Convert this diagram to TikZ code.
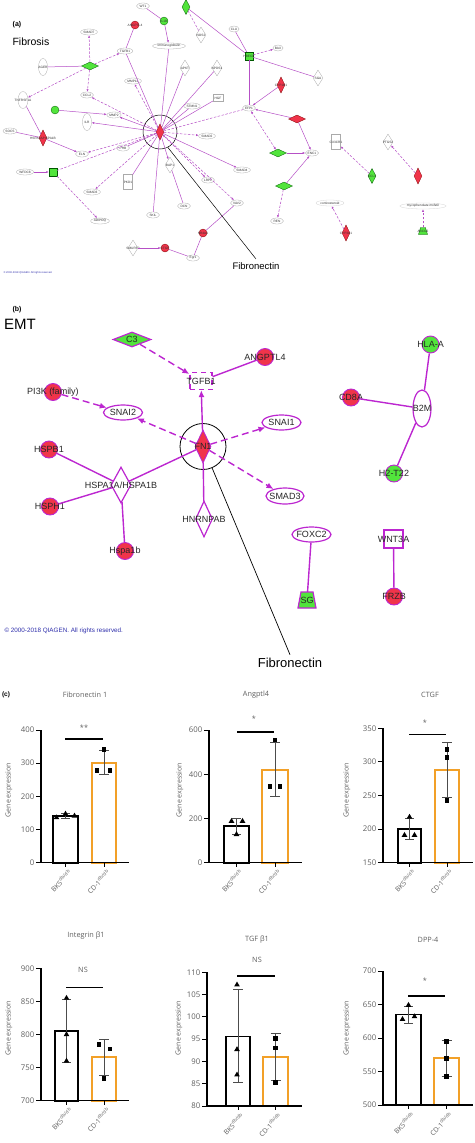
\documentclass[tikz,border=0pt]{standalone}
\usepackage{fontspec}
\setmainfont{Liberation Sans}
\newfontfamily\chartfont{Open Sans}
\usetikzlibrary{shapes.geometric,arrows.meta}
\definecolor{ipa}{RGB}{188,38,208}
\definecolor{ipal}{RGB}{182,80,198}
\definecolor{nred}{RGB}{240,52,74}
\definecolor{ngreen}{RGB}{82,228,60}
\definecolor{qblue}{RGB}{45,45,170}
\definecolor{obar}{RGB}{242,160,40}
\definecolor{cgray}{RGB}{95,95,95}
\definecolor{agray}{RGB}{170,170,170}
\newcommand\xlabs[4]{%
  \draw[cax,line width=1pt] (#2,#4) -- (#2,#4+4) (#3,#4) -- (#3,#4+4);
  \node[xlab] (#1k) at (#2+2.5,#4+6) {BKS\textsuperscript{db/db}};
  \node[xlab] (#1m) at (#3+2.5,#4+6) {CD-1\textsuperscript{db/db}};
}
\begin{document}
\begin{tikzpicture}[x=1pt,y=-1pt,
 alab/.style={font=\fontsize{3.2}{3.2}\selectfont, inner sep=0pt, text=black!80},
 aL/.style={label={[alab]center:#1}},
 abase/.style={draw=agray, line width=0.3pt, fill=white, inner sep=0.4pt},
 aell/.style={abase, ellipse, minimum width=13pt, minimum height=6pt, font=\fontsize{3.2}{3.2}\selectfont, text=black!80},
 aellv/.style={abase, ellipse, minimum width=9pt, minimum height=17pt},
 awdv/.style={abase, diamond, minimum width=10pt, minimum height=16pt, inner sep=0pt},
 abox/.style={abase, rectangle, minimum width=10pt, minimum height=7pt, font=\fontsize{3.2}{3.2}\selectfont, text=black!80},
 aboxv/.style={abase, rectangle, minimum width=9pt, minimum height=15pt, inner sep=0pt},
 agc/.style={circle, fill=ngreen, draw=green!35!black, line width=0.3pt, minimum size=8pt, inner sep=0pt},
 arc/.style={circle, fill=nred, draw=red!50!black, line width=0.3pt, minimum size=8pt, inner sep=0pt},
 agdv/.style={diamond, fill=ngreen, draw=green!35!black, line width=0.3pt, minimum width=8pt, minimum height=15pt, inner sep=0pt},
 agdh/.style={diamond, fill=ngreen, draw=green!35!black, line width=0.3pt, minimum width=17pt, minimum height=8pt, inner sep=0pt},
 ardv/.style={diamond, fill=nred, draw=red!50!black, line width=0.3pt, minimum width=8pt, minimum height=16pt, inner sep=0pt},
 ardh/.style={diamond, fill=nred, draw=red!50!black, line width=0.3pt, minimum width=17pt, minimum height=8pt, inner sep=0pt},
 agsq/.style={rectangle, fill=ngreen, draw=green!35!black, line width=0.3pt, minimum size=8pt, inner sep=0pt},
 ae/.style={draw=ipal, line width=0.5pt},
 aa/.style={ae, -{Latex[length=2.6pt,width=2.2pt]}},
 ad/.style={ae, dash pattern=on 2.5pt off 1.5pt},
 ada/.style={ad, -{Latex[length=2.6pt,width=2.2pt]}},
 adaa/.style={ad, {Latex[length=2.6pt,width=2.2pt]}-{Latex[length=2.6pt,width=2.2pt]}},
 blab/.style={font=\fontsize{9}{9}\selectfont, inner sep=0pt, text=black!85},
 bL/.style={label={[blab]center:#1}},
 bred/.style={circle, fill=nred, draw=ipa, line width=0.9pt, minimum size=17pt, inner sep=0pt},
 bgreen/.style={circle, fill=ngreen, draw=ipa, line width=0.9pt, minimum size=17pt, inner sep=0pt},
 bell/.style={ellipse, draw=ipa, fill=white, line width=1.2pt, minimum width=39pt, minimum height=15pt, inner sep=0pt},
 bdia/.style={diamond, draw=ipa, fill=white, line width=1.2pt, minimum width=18pt, minimum height=36pt, inner sep=0pt},
 be/.style={draw=ipa, line width=1.4pt},
 ba/.style={be, -{Latex[length=7pt,width=6pt]}},
 bd/.style={be, dash pattern=on 7pt off 4pt},
 bda/.style={bd, -{Latex[length=7pt,width=6pt]}},
 cax/.style={draw=black, line width=1.3pt},
 cbar/.style={draw=black, line width=1.6pt},
 obarst/.style={draw=obar, line width=1.6pt},
 cerr/.style={draw=black!70, line width=0.7pt},
 sig/.style={draw=black, line width=1.7pt},
 ctick/.style={anchor=east, font=\chartfont\fontsize{7.8}{8}\selectfont, text=cgray, inner sep=1.2pt},
 ctitle/.style={font=\chartfont\fontsize{7.3}{8}\selectfont, text=cgray},
 xlab/.style={anchor=north east, rotate=45, font=\chartfont\fontsize{6.8}{7}\selectfont, text=cgray, inner sep=0pt},
 gex/.style={rotate=90, font=\chartfont\fontsize{7}{7}\selectfont, text=cgray},
 tri/.style={regular polygon, regular polygon sides=3, fill=black, inner sep=0pt, minimum size=6.5pt},
 sqm/.style={rectangle, fill=black, inner sep=0pt, minimum size=4.8pt},
]
\useasboundingbox (0,0) rectangle (474,1143);

%================ panel (a)
\node[font=\bfseries\fontsize{7}{7}\selectfont] (alabA) at (17,25) {(a)};
\node[anchor=west, font=\fontsize{10.5}{11}\selectfont] (afib) at (9,42) {Fibrosis};

\node[aell] (aWT1) at (143,6) {WT1};
\node[agc, aL=IL1B] (aIL1B) at (164,21) {};
\node[agdv] (aGD1) at (186,7) {};
\node[arc, aL=ANGPTL4] (aANG) at (135,25) {};
\node[aell] (aSMAD7) at (89,32) {SMAD7};
\node[awdv, aL=NOS2] (aNOS2) at (201,35) {};
\node[aell, minimum width=10pt] (aCLU) at (234,29) {CLU};
\node[aell] (aIG) at (169,46) {Immunoglobulin};
\node[aell] (aTGFB1) at (125,51) {TGFB1};
\node[aellv, aL=AGER] (aAGER) at (43,67) {};
\node[agdh] (aGH) at (90,66) {};
\node[awdv, aL=APKT] (aAPK) at (185,68) {};
\node[awdv, aL=NPDS1] (aNPD) at (217,68) {};
\node[aell] (aMMP12) at (133,81) {MMP12};
\node[aell] (aCCL2) at (87,95) {CCL2};
\node[abox] (aHGF) at (218,98) {HGF};
\node[aellv, minimum width=10pt, aL=TNFRSF1A] (aTNF) at (23,100) {};
\node[aell] (aSTMN) at (192,106) {STMN1};
\node[agc] (aGC2) at (55,110) {};
\node[aell] (aMMP2) at (114,115) {MMP2};
\node[aellv, aL=ILR] (aILR) at (87,122) {};
\node[ardv] (aFN1) at (160,132) {};
\node[circle, draw=black, line width=0.5pt, minimum size=34pt, inner sep=0pt] (aFNC) at (160,132) {};
\node[aell] (aSOCS) at (10,131) {SOCS};
\node[ardv, aL=HSPA1A/HSPA1B] (aHSPA) at (43,138) {};
\node[aell] (aSMAD2) at (207,136) {SMAD2};
\node[aell] (aELN) at (82,154) {ELN};
\node[aell] (aPHB) at (123,148) {PHB};
\node[aell] (aWFDC) at (25,172) {WFDC8};
\node[agsq] (aGSQ) at (53,172) {};
\node[awdv, aL=BAP1] (aBAP) at (170,165) {};
\node[aboxv, aL=PKD1] (aPKD) at (128,182) {};
\node[aell] (aLRP) at (208,180) {LRP1};
\node[aell] (aSMAD3) at (92,192) {SMAD3};
\node[aell] (aDCN) at (184,206) {DCN};
\node[aell] (aSKIL) at (153,215) {SKIL};
\node[aell] (aADI) at (100,221) {ADIPOQ};
\node[aell] (aVAV) at (237,203) {VAV2};
\node[aell] (aSMAD4) at (242,170) {SMAD4};
\node[arc, aL=NR4A1] (aRC1) at (203,233) {};
\node[awdv, aL=SMURF2] (aSMURF) at (133,248) {};
\node[arc, aL=CTGF] (aRC2) at (165,248) {};
\node[aell] (aEGR) at (193,258) {Egr1};
\node[agsq, aL=HBEGF] (aHB) at (249,56) {};
\node[aell, minimum width=9pt] (aBAX) at (278,48) {BAX};
\node[awdv, aL=SGA] (aSGA) at (318,78) {};
\node[ardv, aL=CYP1B1] (aCYP) at (281,85) {};
\node[aell] (aEPP) at (249,108) {EFP1};
\node[ardh] (aRDH) at (297,119) {};
\node[aboxv, aL=CX3CR1] (aCX3) at (336,142) {};
\node[awdv, aL=PTGS2] (aPTGS) at (388,142) {};
\node[agdh] (aGD2) at (278,153) {};
\node[aell] (aENC) at (312,153) {ENC1};
\node[agdv, aL=CCL3] (aCCL3) at (372,176) {};
\node[ardv] (aRD2) at (418,176) {};
\node[agdh] (aGD3) at (284,186) {};
\node[aell, draw=agray!50] (aCORT) at (330,203) {corticosteroid};
\node[aell, draw=agray!50] (aMYCO) at (423,206) {mycophenolate mofetil};
\node[aell] (aREN) at (277,221) {REN};
\node[ardv, aL=CYP3A1] (aCYP2) at (346,233) {};
\filldraw[fill=ngreen, draw=green!35!black, line width=0.3pt] (420.5,227.5) -- (425.5,227.5) -- (427.5,234.5) -- (418.5,234.5) -- cycle;
\node[rectangle, minimum width=9pt, minimum height=7pt, inner sep=0pt, aL=ABCG2] (aABC) at (423,231) {};

\draw[ae] (aIG) -- (aFN1);
\draw[ae] (aTGFB1) -- (aFN1);
\draw[ada] (aFN1) -- (aMMP12);
\draw[ae] (aAPK) -- (aFN1);
\draw[ae] (aNPD) -- (aFN1);
\draw[ae] (aHGF) -- (aFN1);
\draw[ae] (aSTMN) -- (aFN1);
\draw[aa] (aFN1) -- (aMMP2);
\draw[ada] (aFN1) -- (aCCL2);
\draw[aa] (aFN1) -- (aILR);
\draw[aa] (aGC2) -- (aMMP2);
\draw[ada] (aFN1) -- (aSMAD2);
\draw[ad] (aFN1) -- (aEPP);
\draw[ada] (aFN1) -- (aELN);
\draw[ad] (aFN1) -- (aGSQ);
\draw[ada] (aFN1) -- (aSMAD3);
\draw[ae] (aFN1) -- (aPKD);
\draw[ae] (aFN1) -- (aPHB);
\draw[ae] (aFN1) -- (aSKIL);
\draw[aa] (aFN1) -- (aBAP);
\draw[adaa] (aFN1) -- (aLRP);
\draw[ada] (aFN1) -- (aVAV);
\draw[aa] (aFN1) -- (aSMAD4);
\draw[ae] (aBAP) -- (aDCN);
\draw[ae] (aVAV) -- (aRC1);
\draw[ae] (aRC1) -- (aEGR);
\draw[ae] (aEGR) -- (aRC2);
\draw[aa] (aSMURF) -- (aRC2);
\draw[ae] (aWT1) -- (aIL1B);
\draw[aa] (aIL1B) -- (aIG);
\draw[ae] (aGD1) -- (aHB);
\draw[ad] (aGD1) -- (aNOS2);
\draw[ae] (aCLU) -- (aHB);
\draw[ada] (aHB) -- (aBAX);
\draw[ae] (aHB) -- (aSGA);
\draw[ae] (aHB) -- (aEPP);
\draw[aa] (aCYP) -- (aEPP);
\draw[aa] (aRDH) -- (aEPP);
\draw[aa] (aRDH) -- (aENC);
\draw[aa] (aGD2) -- (aENC);
\draw[adaa] (aGD2) -- (aEPP);
\draw[aa] (aGD3) -- (aENC);
\draw[ada] (aGD3) -- (aREN);
\draw[ada] (aCCL3) -- (aCX3);
\draw[ada] (aRD2) -- (aPTGS);
\draw[ada] (aCYP2) -- (aCORT);
\draw[ada] (aABC) -- (aMYCO);
\draw[ae] (aANG) -- (aTGFB1);
\draw[ada] (aGH) -- (aTGFB1);
\draw[ada] (aGH) -- (aSMAD7);
\draw[ae] (aAGER) -- (aGH);
\draw[ada] (aGH) -- (aTNF);
\draw[ada] (aGH) -- (aCCL2);
\draw[ae] (aTNF) -- (aHSPA);
\draw[ae] (aSOCS) -- (aHSPA);
\draw[aa] (aHSPA) -- (aELN);
\draw[aa] (aWFDC) -- (aGSQ);
\draw[ada] (aGSQ) -- (aADI);

\node[anchor=west, font=\fontsize{2.6}{3}\selectfont, text=qblue] (acopy) at (0,273) {\textcopyright{} 2000-2018 QIAGEN. All rights reserved.};
\node[font=\fontsize{9.5}{10}\selectfont] (aFIB) at (256,266) {Fibronectin};
\draw[black, line width=0.5pt] (aFNC.-63) -- (aFIB.north);

%================ panel (b)
\node[font=\bfseries\fontsize{7}{7}\selectfont] (blabB) at (17,310) {(b)};
\node[font=\fontsize{15}{15}\selectfont] (bemt) at (20,324) {EMT};

\node[diamond, fill=ngreen, draw=ipa, line width=1.2pt, minimum width=38pt, minimum height=15pt, inner sep=0pt, bL=C3] (bC3) at (132,339.5) {};
\node[rectangle, draw=ipa, dash pattern=on 5pt off 4pt, line width=1.2pt, minimum width=22pt, minimum height=17pt, inner sep=0pt, bL=TGFB1] (bTGF) at (201,381) {};
\node[bred, bL=ANGPTL4] (bANG) at (265,357) {};
\node[bred, bL=PI3K (family)] (bPI3K) at (53,392) {};
\node[bell, bL=SNAI2] (bSNAI2) at (123,412.5) {};
\node[bred, bL=HSPB1] (bHSPB1) at (49,449.5) {};
\node[diamond, fill=nred, draw=ipa, line width=0.9pt, minimum width=16pt, minimum height=33pt, inner sep=0pt, bL=FN1] (bFN1) at (203,446.5) {};
\node[circle, draw=black, line width=0.8pt, minimum size=46pt, inner sep=0pt] (bFNC) at (203,446.5) {};
\node[bell, bL=SNAI1] (bSNAI1) at (281.5,422.5) {};
\node[bell, minimum width=38pt, minimum height=16pt, bL=SMAD3] (bSMAD3) at (285,496) {};
\node[bdia, minimum width=20pt, bL=HSPA1A/HSPA1B] (bHSPA) at (121,485) {};
\node[bred, bL=HSPH1] (bHSPH1) at (50,506.5) {};
\node[bdia, minimum width=17pt, bL=HNRNPAB] (bHNR) at (204,519) {};
\node[bred, bL=Hspa1b] (bHspa) at (125,551) {};
\node[bred, bL=CD8A] (bCD8A) at (351,397.5) {};
\node[bgreen, bL=HLA-A] (bHLA) at (430.5,344.5) {};
\node[ellipse, draw=ipa, fill=white, line width=1.2pt, minimum width=18pt, minimum height=37pt, inner sep=0pt, bL=B2M] (bB2M) at (422,408.5) {};
\node[bgreen, bL=H2-T22] (bH2) at (394,473.5) {};
\node[bell, bL=FOXC2] (bFOXC2) at (311.5,534.5) {};
\node[rectangle, draw=ipa, fill=white, line width=1.2pt, minimum width=19pt, minimum height=18pt, inner sep=0pt, bL=WNT3A] (bWNT) at (393.5,539) {};
\filldraw[fill=ngreen, draw=ipa, line width=1.2pt] (301,592) -- (313,592) -- (316,608) -- (298,608) -- cycle;
\node[rectangle, minimum width=18pt, minimum height=16pt, inner sep=0pt, bL=SG] (bSG) at (307,600) {};
\node[bred, bL=FRZB] (bFRZB) at (394,596.5) {};

\draw[bda] (bC3) -- (bTGF);
\draw[ba] (bFN1) -- (bTGF);
\draw[be] (bTGF) -- (bANG);
\draw[bda] (bPI3K) -- (bSNAI2);
\draw[bda] (bFN1) -- (bSNAI2);
\draw[bda] (bFN1) -- (bSNAI1);
\draw[bda] (bFN1) -- (bSMAD3);
\draw[be] (bFN1) -- (bHNR);
\draw[be] (bHSPB1) -- (bHSPA);
\draw[be] (bHSPH1) -- (bHSPA);
\draw[be] (bHSPA) -- (bFN1);
\draw[be] (bHSPA) -- (bHspa);
\draw[be] (bCD8A) -- (bB2M);
\draw[be] (bHLA) -- (bB2M);
\draw[be] (bH2) -- (bB2M);
\draw[be] (bFOXC2) -- (bSG);
\draw[be] (bWNT) -- (bFRZB);

\node[anchor=west, font=\fontsize{6.3}{7}\selectfont, text=qblue] (bcopy) at (1,631) {\textcopyright{} 2000-2018 QIAGEN. All rights reserved.};
\node[font=\fontsize{13}{13}\selectfont] (bFIB) at (290,663) {Fibronectin};
\draw[black, line width=0.7pt] (bFNC.-67) -- (bFIB.north);

%================ panel (c)
\node[font=\bfseries\fontsize{6.5}{7}\selectfont] (clab) at (6,695) {(c)};

% chart 1
\begin{scope}[shift={(41,862.7)}, yscale=-0.33175]
 \draw[cbar] (12,0) rectangle (37,140);
 \draw[obarst] (51,0) rectangle (75,300);
 \draw[cerr] (24.5,133) -- (24.5,148) (20,133) -- (29,133) (20,148) -- (29,148);
 \draw[cerr] (63,265) -- (63,338) (58,265) -- (68,265) (58,338) -- (68,338);
 \node[tri] (c1p1) at (15.5,136) {};
 \node[tri] (c1p2) at (24.5,147) {};
 \node[tri] (c1p3) at (33.5,141) {};
 \node[sqm] (c1q1) at (63,342) {};
 \node[sqm] (c1q2) at (56,277) {};
 \node[sqm] (c1q3) at (69,277) {};
 \draw[cax] (0,400) -- (0,0) -- (88,0);
 \foreach \v in {0,100,200,300,400} {\draw[cax,line width=0.9pt] (0,\v) -- (-5,\v) node[ctick] (c1y\v) {\v};}
 \draw[sig] (24,373) -- (62,373);
\end{scope}
\xlabs{c1}{65.5}{104}{862.7}
\node[ctitle] (c1t) at (85,695) {Fibronectin 1};
\node[ctitle] (c1s) at (84,728) {**};
\node[gex] (c1g) at (9,790) {Gene expression};

% chart 2
\begin{scope}[shift={(209,862.7)}, yscale=-0.22117]
 \draw[cbar] (15,0) rectangle (40,165);
 \draw[obarst] (53,0) rectangle (79,420);
 \draw[cerr] (27.5,130) -- (27.5,200) (23,130) -- (32,130) (23,200) -- (32,200);
 \draw[cerr] (66,298) -- (66,542) (61,298) -- (71,298) (61,542) -- (71,542);
 \node[tri] (c2p1) at (22.5,188) {};
 \node[tri] (c2p2) at (33.5,188) {};
 \node[tri] (c2p3) at (27.5,128) {};
 \node[sqm] (c2q1) at (66,555) {};
 \node[sqm] (c2q2) at (61,345) {};
 \node[sqm] (c2q3) at (71,345) {};
 \draw[cax] (0,600) -- (0,0) -- (93,0);
 \foreach \v in {0,200,400,600} {\draw[cax,line width=0.9pt] (0,\v) -- (-5,\v) node[ctick] (c2y\v) {\v};}
 \draw[sig] (28,591) -- (65,591);
\end{scope}
\xlabs{c2}{236.5}{275}{862.7}
\node[ctitle] (c2t) at (256,695) {Angptl4};
\node[ctitle] (c2s) at (254,719) {*};
\node[gex] (c2g) at (180,790) {Gene expression};

% chart 3
\begin{scope}[shift={(383,862.7)}, yscale=-0.672, shift={(0,-150)}]
 \draw[cbar] (15,150) rectangle (38,200);
 \draw[obarst] (52,150) rectangle (76,288);
 \draw[cerr] (26.5,185) -- (26.5,216) (22,185) -- (31,185) (22,216) -- (31,216);
 \draw[cerr] (64,247) -- (64,329) (59,247) -- (69,247) (59,329) -- (69,329);
 \node[tri] (c3p1) at (26.5,218) {};
 \node[tri] (c3p2) at (21.5,191) {};
 \node[tri] (c3p3) at (31.5,191) {};
 \node[sqm] (c3q1) at (64,319) {};
 \node[sqm] (c3q2) at (64,306) {};
 \node[sqm] (c3q3) at (64,242) {};
 \draw[cax] (0,350) -- (0,150) -- (90,150);
 \foreach \v in {150,200,250,300,350} {\draw[cax,line width=0.9pt] (0,\v) -- (-5,\v) node[ctick] (c3y\v) {\v};}
 \draw[sig] (26,341) -- (63,341);
\end{scope}
\xlabs{c3}{409.5}{447}{862.7}
\node[ctitle] (c3t) at (430,695) {CTGF};
\node[ctitle] (c3s) at (425,723) {*};
\node[gex] (c3g) at (347,790) {Gene expression};

% chart 4
\begin{scope}[shift={(41,1100.7)}, yscale=-0.662, shift={(0,-700)}]
 \draw[cbar] (14,700) rectangle (37,805);
 \draw[obarst] (51,700) rectangle (75,766);
 \draw[cerr] (25.5,758) -- (25.5,853) (21,758) -- (30,758) (21,853) -- (30,853);
 \draw[cerr] (63,738) -- (63,793) (58,738) -- (68,738) (58,793) -- (68,793);
 \node[tri] (c4p1) at (25.5,855) {};
 \node[tri] (c4p2) at (25.5,800) {};
 \node[tri] (c4p3) at (25.5,760) {};
 \node[sqm] (c4q1) at (58,785) {};
 \node[sqm] (c4q2) at (69,778) {};
 \node[sqm] (c4q3) at (63,734) {};
 \draw[cax] (0,900) -- (0,700) -- (88,700);
 \foreach \v in {700,750,800,850,900} {\draw[cax,line width=0.9pt] (0,\v) -- (-5,\v) node[ctick] (c4y\v) {\v};}
 \draw[sig] (25,871) -- (62,871);
\end{scope}
\xlabs{c4}{66.5}{104}{1100.7}
\node[ctitle] (c4t) at (86,936) {Integrin β1};
\node[ctitle] (c4s) at (83,970) {NS};
\node[gex] (c4g) at (9,1028) {Gene expression};

% chart 5
\begin{scope}[shift={(207,1106)}, yscale=-4.4567, shift={(0,-80)}]
 \draw[cbar] (19,80) rectangle (43,95.6);
 \draw[obarst] (56,80) rectangle (81,91);
 \draw[cerr] (31,85.2) -- (31,106.2) (26,85.2) -- (36,85.2) (26,106.2) -- (36,106.2);
 \draw[cerr] (68.5,85.7) -- (68.5,96.3) (63.5,85.7) -- (73.5,85.7) (63.5,96.3) -- (73.5,96.3);
 \node[tri] (c5p1) at (30,107.2) {};
 \node[tri] (c5p2) at (30,92.7) {};
 \node[tri] (c5p3) at (30,87) {};
 \node[sqm] (c5q1) at (68.5,95.2) {};
 \node[sqm] (c5q2) at (68.5,93) {};
 \node[sqm] (c5q3) at (68.5,85.3) {};
 \draw[cax] (0,110) -- (0,80) -- (95,80);
 \foreach \v in {80,85,90,95,100,105,110} {\draw[cax,line width=0.9pt] (0,\v) -- (-5,\v) node[ctick] (c5y\v) {\v};}
 \draw[sig] (30,109.2) -- (68,109.2);
\end{scope}
\xlabs{c5}{238}{275.5}{1106}
\node[ctitle] (c5t) at (257,940) {TGF β1};
\node[ctitle] (c5s) at (257,960) {NS};
\node[gex] (c5g) at (179,1028) {Gene expression};

% chart 6
\begin{scope}[shift={(383,1105)}, yscale=-0.67, shift={(0,-500)}]
 \draw[cbar] (13,500) rectangle (38,635);
 \draw[obarst] (51,500) rectangle (76,570);
 \draw[cerr] (25.5,622) -- (25.5,648) (21,622) -- (30,622) (21,648) -- (30,648);
 \draw[cerr] (63.5,543) -- (63.5,596) (58.5,543) -- (68.5,543) (58.5,596) -- (68.5,596);
 \node[tri] (c6p1) at (25.5,649) {};
 \node[tri] (c6p2) at (19.5,628) {};
 \node[tri] (c6p3) at (31.5,632) {};
 \node[sqm] (c6q1) at (63.5,595) {};
 \node[sqm] (c6q2) at (63.5,570) {};
 \node[sqm] (c6q3) at (63.5,543) {};
 \draw[cax] (0,700) -- (0,500) -- (90,500);
 \foreach \v in {500,550,600,650,700} {\draw[cax,line width=0.9pt] (0,\v) -- (-5,\v) node[ctick] (c6y\v) {\v};}
 \draw[sig] (25,663) -- (62,663);
\end{scope}
\xlabs{c6}{408.5}{446.5}{1105}
\node[ctitle] (c6t) at (428,940) {DPP-4};
\node[ctitle] (c6s) at (425,981) {*};
\node[gex] (c6g) at (347,1028) {Gene expression};
\end{tikzpicture}
\end{document}
